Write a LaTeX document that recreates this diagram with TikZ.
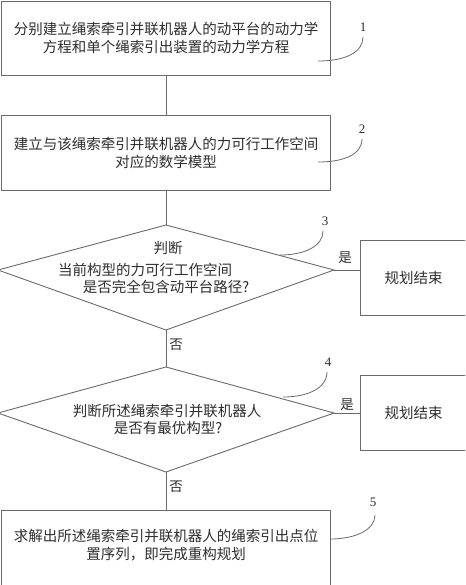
\documentclass[tikz,border=0pt]{standalone}
\usepackage{fontspec}
\setmainfont{Liberation Serif}
\newfontfamily\cjk{Noto Sans CJK SC}
\definecolor{lc}{HTML}{6A6A6A}
\definecolor{tc}{HTML}{2E2E2E}
\begin{document}
\begin{tikzpicture}[x=1pt,y=-1pt,
  ln/.style={draw=lc, line width=0.9pt},
  box/.style={ln, rectangle, inner sep=0pt, font=\cjk\fontsize{14.5}{18}\selectfont, text=tc, align=center},
  txt/.style={inner sep=0pt, font=\cjk\fontsize{14.5}{18}\selectfont, text=tc, align=center},
  yn/.style={inner sep=0pt, font=\cjk\fontsize{13.5}{16}\selectfont, text=tc},
  num/.style={inner sep=0pt, font=\fontsize{13}{15}\selectfont, text=tc},
  lead/.style={draw=lc, line width=0.8pt}]
\useasboundingbox (0,0) rectangle (465,585);
\fill[white] (0,0) rectangle (465,585);
\clip (0,0) rectangle (465,585);

% boxes
\node[box, minimum width=329pt, minimum height=73.5pt] (b1) at (166,38.25)
  {分别建立绳索牵引并联机器人的动平台的动力学\\方程和单个绳索引出装置的动力学方程};
\node[box, minimum width=329pt, minimum height=75pt] (b2) at (166,152.5)
  {建立与该绳索牵引并联机器人的力可行工作空间\\对应的数学模型};

% diamond 1
\coordinate (d1t) at (166,225);
\coordinate (d1r) at (334,270);
\coordinate (d1b) at (166,330);
\coordinate (d1l) at (-2,270);
\draw[ln] (d1t) -- (d1r) -- (d1b) -- (d1l) -- cycle;
\node[txt] (d1a) at (168,248) {判断};
\node[txt] (d1c) at (145,270) {当前构型的力可行工作空间};
\node[txt] (d1d) at (166,287) {是否完全包含动平台路径?};

% diamond 2
\coordinate (d2t) at (166,367);
\coordinate (d2r) at (334,413);
\coordinate (d2b) at (166,472);
\coordinate (d2l) at (-2,413);
\draw[ln] (d2t) -- (d2r) -- (d2b) -- (d2l) -- cycle;
\node[txt] (d2a) at (167,411) {判断所述绳索牵引并联机器人};
\node[txt] (d2c) at (168,428) {是否有最优构型?};

% right boxes
\node[box, minimum width=107pt, minimum height=75pt] (r1) at (413.5,277.5) {规划结束};
\node[box, minimum width=107pt, minimum height=75pt] (r2) at (413.5,412.5) {规划结束};

% box 5
\node[box, minimum width=329pt, minimum height=90pt] (b5) at (166,555) {};
\node[txt] (t5) at (166,545.5)
  {求解出所述绳索牵引并联机器人的绳索引出点位\\置序列，即完成重构规划};

% connectors
\draw[ln] (b1.south) -- (b2.north);
\draw[ln] (b2.south) -- (d1t);
\draw[ln] (d1r) -- (d1r -| r1.west);
\draw[ln] (d1b) -- (d2t);
\draw[ln] (d2r) -- (d2r -| r2.west);
\draw[ln] (d2b) -- (b5.north);

% yes / no labels
\node[yn] (y1) at (345,258) {是};
\node[yn] (y2) at (347,405) {是};
\node[yn] (n1) at (176,345) {否};
\node[yn] (n2) at (176,487) {否};

% step numbers and leaders
\node[num] (k1) at (363,27) {1};
\coordinate (e1) at (318,61);
\draw[lead] (363,37) .. controls (363,52) and (346,61) .. (e1);
\node[num] (k2) at (362,129) {2};
\coordinate (e2) at (318,162);
\draw[lead] (362,139) .. controls (362,154) and (345,162) .. (e2);
\node[num] (k3) at (325,221) {3};
\coordinate (e3) at (280,255);
\draw[lead] (323,231) .. controls (323,246) and (305,255) .. (e3);
\node[num] (k4) at (328,362) {4};
\coordinate (e4) at (283,397);
\draw[lead] (327,372) .. controls (327,388) and (308,397) .. (e4);
\node[num] (k5) at (373,502) {5};
\coordinate (e5) at (330,539);
\draw[lead] (375,515) .. controls (375,530) and (355,539) .. (e5);
\end{tikzpicture}
\end{document}
